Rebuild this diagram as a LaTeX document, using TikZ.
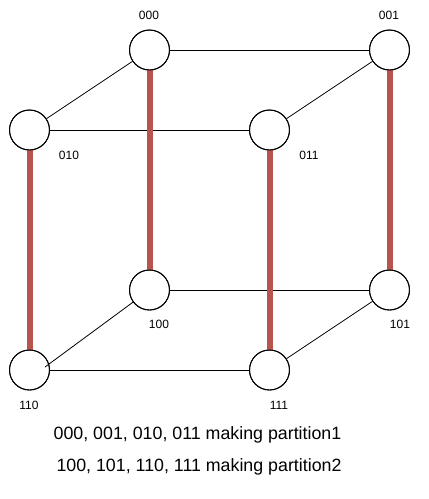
\documentclass[tikz,border=0pt]{standalone}
\usepackage{fontspec}
\setmainfont{Liberation Sans}
\definecolor{redbar}{RGB}{184,84,80}
\begin{document}
\begin{tikzpicture}[x=1pt,y=-1pt,
  vertex/.style={circle,draw=black,fill=white,line width=0.9pt,minimum size=40pt,inner sep=0pt},
  lbl/.style={font=\fontsize{12}{14}\selectfont,text=black,inner sep=0pt},
  edge/.style={draw=black,line width=0.8pt},
  part/.style={draw=redbar,line width=6pt},
  caption/.style={font=\fontsize{17.8}{20}\selectfont,text=black,inner sep=0pt}]
\useasboundingbox[fill=white] (0,0) rectangle (429,499);
% vertices
\node[vertex] (a000) at (149.5,50) {};
\node[vertex] (a001) at (389.5,50) {};
\node[vertex] (a010) at (29.5,130) {};
\node[vertex] (a011) at (269.5,130) {};
\node[vertex] (a100) at (149.5,290) {};
\node[vertex] (a101) at (389.5,290) {};
\node[vertex] (a110) at (29.5,370) {};
\node[vertex] (a111) at (269.5,370) {};
\coordinate (e110) at (45,367);
% thin edges
\draw[edge] (a000) -- (a001);
\draw[edge] (a000) -- (a010);
\draw[edge] (a001) -- (a011);
\draw[edge] (a010) -- (a011);
\draw[edge] (a100) -- (a101);
\draw[edge] (a101) -- (a111);
\draw[edge] (a110) -- (a111);
% partition bars
\draw[part] (a000) -- (a100);
\draw[part] (a001) -- (a101);
\draw[part] (a010) -- (a110);
\draw[part] (a011) -- (a111);
% vertices drawn again on top
\foreach \n in {a000,a001,a010,a011,a100,a101,a110,a111}
  \draw[line width=0.9pt] (\n.center) circle (20pt);
\draw[edge] (a100) -- (e110);
% labels
\node[lbl] (l000) at (149,15) {000};
\node[lbl] (l001) at (389,15) {001};
\node[lbl] (l010) at (69,155) {010};
\node[lbl] (l011) at (309,155) {011};
\node[lbl] (l100) at (159,324) {100};
\node[lbl] (l101) at (400,324) {101};
\node[lbl] (l110) at (29,405) {110};
\node[lbl] (l111) at (279,405) {111};
% captions
\node[caption] (c1) at (197.5,435) {000, 001, 010, 011 making partition1};
\node[caption] (c2) at (199,467) {100, 101, 110, 111 making partition2};
\end{tikzpicture}
\end{document}
